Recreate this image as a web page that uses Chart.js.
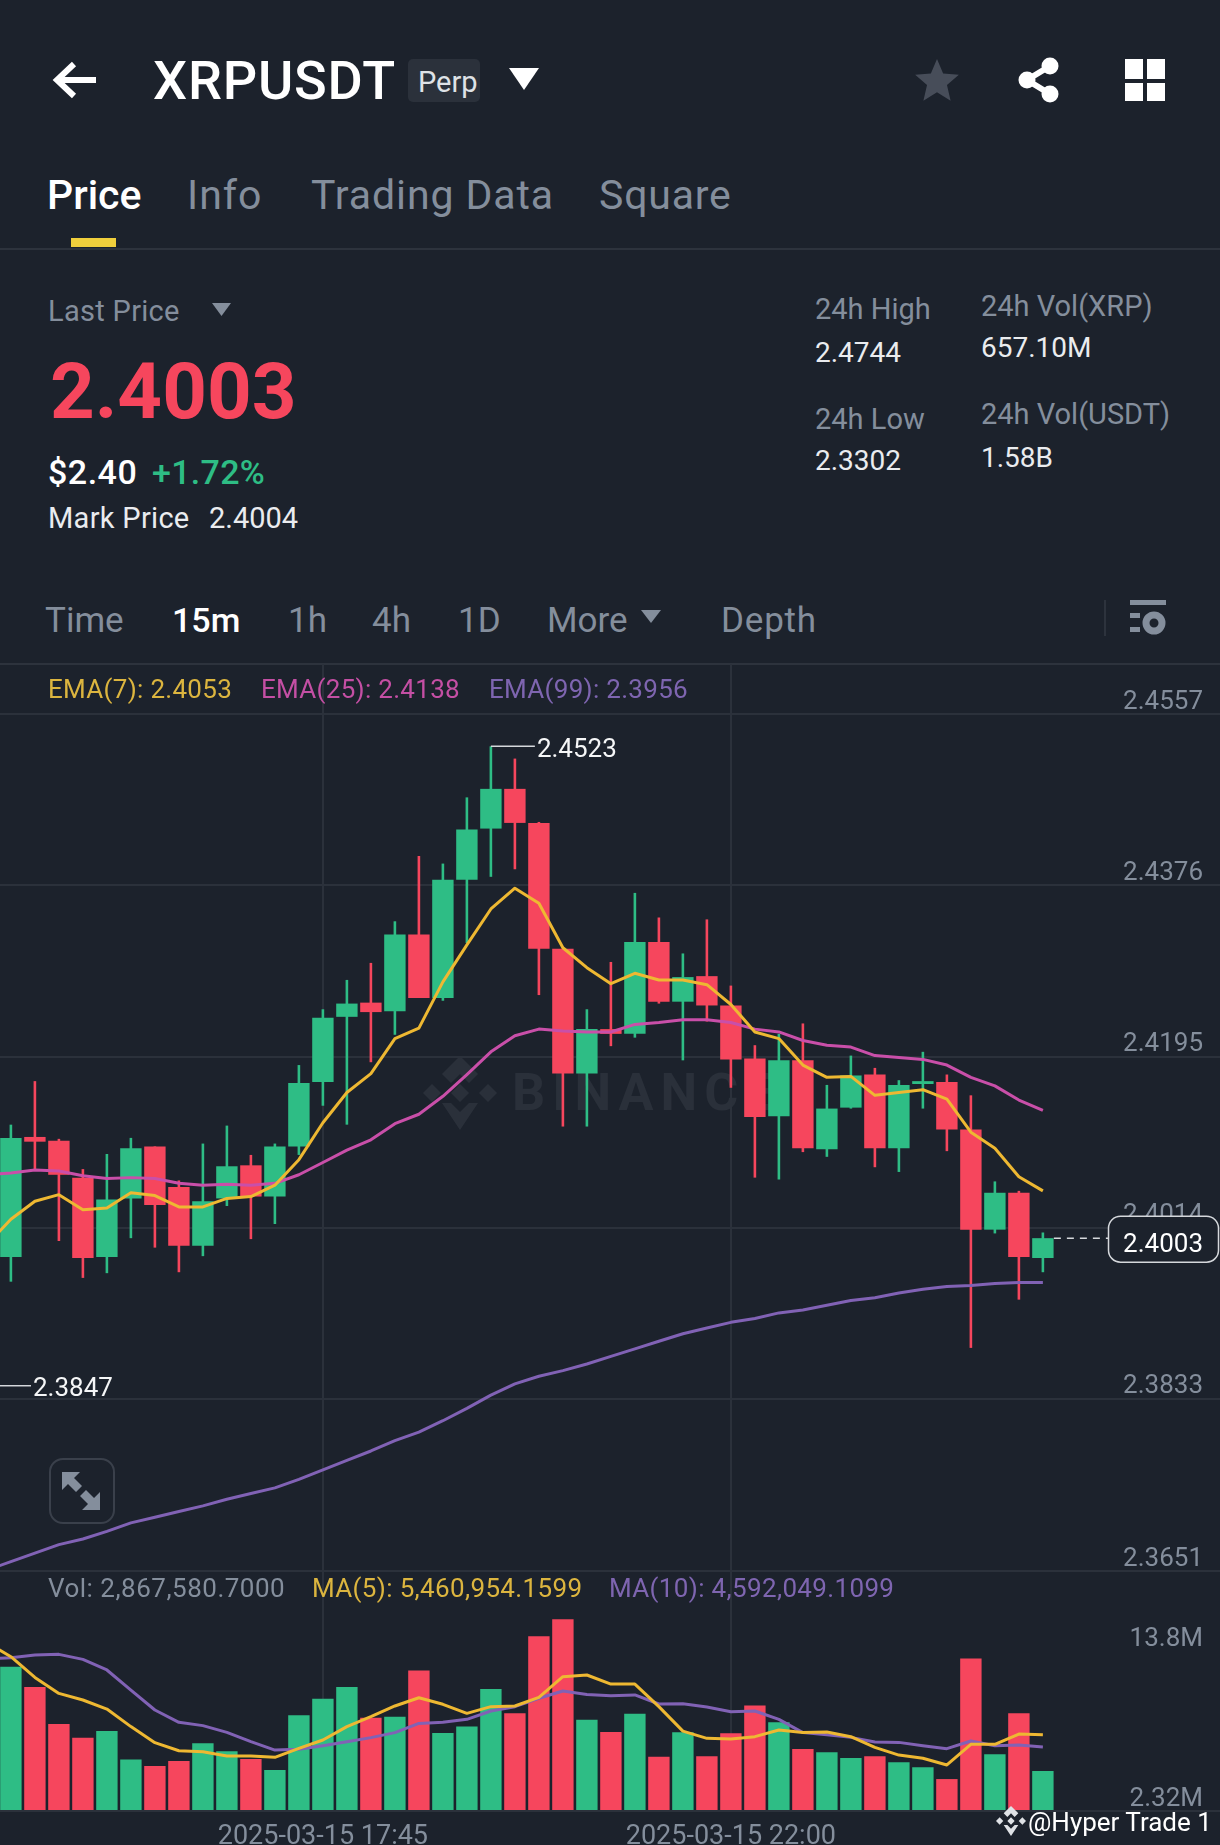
<!DOCTYPE html>
<html>
<head>
<meta charset="utf-8">
<title>XRPUSDT Perp</title>
<script src="https://cdn.jsdelivr.net/npm/chart.js@4/dist/chart.umd.min.js"></script>
<style>
html,body{margin:0;padding:0;background:#1c222c;}
body{position:relative;width:1220px;height:1845px;overflow:hidden;font-family:Roboto,sans-serif;color:#fff;}
.t{position:absolute;white-space:nowrap;transform:translateY(-50%);line-height:1;}
.gray{color:#848e9c;}
.line{position:absolute;background:#2d333d;}
svg{position:absolute;}
canvas{position:absolute;left:0;z-index:2;}
#priceCanvas{top:664px;}
#volumeCanvas{top:1575px;}
.wm{position:absolute;z-index:1;}
.over{z-index:3;}
</style>
</head>
<body>
<!-- header -->
<svg style="left:52px;top:60px" width="46" height="40" viewBox="0 0 46 40"><path d="M22 4 L5 20 L22 36 M5 20 H44" fill="none" stroke="#fff" stroke-width="6"/></svg>
<span class="t" style="left:153px;top:81px;font-size:54px;font-weight:500;letter-spacing:.8px">XRPUSDT</span>
<div style="position:absolute;left:408px;top:59px;width:72px;height:43px;background:#2b313b;border-radius:5px"></div>
<span class="t" style="left:418px;top:82px;font-size:29px;color:#dfe2e6">Perp</span>
<svg style="left:509px;top:68px" width="30" height="22"><path d="M0 0H30L15 22Z" fill="#fff"/></svg>
<svg style="left:914px;top:56px" width="46" height="48" viewBox="0 0 24 24"><path d="M12 1 L15.2 8.6 L23.4 9.2 L17.2 14.6 L19.1 22.8 L12 18.4 L4.9 22.800 L6.8 14.6 L.6 9.2 L8.8 8.6Z" fill="#474d59"/></svg>
<svg style="left:1016px;top:56px" width="46" height="48" viewBox="0 0 46 48"><path d="M34 10 L11 24 L34 38" fill="none" stroke="#fff" stroke-width="6"/><circle cx="34" cy="10" r="8.5" fill="#fff"/><circle cx="11" cy="24" r="8.5" fill="#fff"/><circle cx="34" cy="38" r="8.5" fill="#fff"/></svg>
<svg style="left:1125px;top:59px" width="40" height="42"><rect width="18" height="20" fill="#fff"/><rect x="22" width="18" height="20" fill="#fff"/><rect y="24" width="18" height="18" fill="#fff"/><rect x="22" y="24" width="18" height="18" fill="#fff"/></svg>

<!-- tabs -->
<span class="t" style="left:47px;top:195px;font-size:41px;font-weight:500">Price</span>
<span class="t gray" style="left:187px;top:195px;font-size:41px;letter-spacing:1px">Info</span>
<span class="t gray" style="left:311px;top:195px;font-size:41px;letter-spacing:.9px">Trading Data</span>
<span class="t gray" style="left:599px;top:195px;font-size:41px;letter-spacing:.8px">Square</span>
<div style="position:absolute;left:71px;top:238px;width:45px;height:9px;background:#f0cf3c"></div>
<div class="line" style="left:0;top:248px;width:1220px;height:2px"></div>

<!-- price block -->
<span class="t gray" style="left:48px;top:311px;font-size:29px;letter-spacing:.3px">Last Price</span>
<svg style="left:212px;top:303px" width="19" height="13"><path d="M0 0H19L9.500 13Z" fill="#848e9c"/></svg>
<span class="t" style="left:50px;top:392px;font-size:78px;font-weight:700;color:#f6465d">2.4003</span>
<span class="t" style="left:48px;top:472px;font-size:34px;font-weight:500;letter-spacing:.5px">$2.40</span>
<span class="t" style="left:152px;top:472px;font-size:34px;font-weight:500;color:#2ebd85;letter-spacing:.3px">+1.72%</span>
<span class="t" style="left:48px;top:518px;font-size:29px;color:#eaecef;letter-spacing:.3px">Mark Price</span>
<span class="t" style="left:209px;top:518px;font-size:29px;color:#eaecef">2.4004</span>

<span class="t gray" style="left:815px;top:309px;font-size:29px">24h High</span>
<span class="t" style="left:815px;top:353px;font-size:28px;color:#eaecef">2.4744</span>
<span class="t gray" style="left:815px;top:419px;font-size:29px">24h Low</span>
<span class="t" style="left:815px;top:461px;font-size:28px;color:#eaecef">2.3302</span>
<span class="t gray" style="left:981px;top:306px;font-size:29px">24h Vol(XRP)</span>
<span class="t" style="left:981px;top:348px;font-size:28px;color:#eaecef">657.10M</span>
<span class="t gray" style="left:981px;top:414px;font-size:29px">24h Vol(USDT)</span>
<span class="t" style="left:981px;top:458px;font-size:28px;color:#eaecef">1.58B</span>

<!-- interval row -->
<span class="t gray" style="left:45px;top:620px;font-size:35px">Time</span>
<span class="t" style="left:172px;top:620px;font-size:34px;font-weight:500">15m</span>
<span class="t gray" style="left:288px;top:620px;font-size:35px">1h</span>
<span class="t gray" style="left:372px;top:620px;font-size:35px">4h</span>
<span class="t gray" style="left:458px;top:620px;font-size:35px">1D</span>
<span class="t gray" style="left:547px;top:620px;font-size:35px">More</span>
<svg style="left:641px;top:610px" width="20" height="13"><path d="M0 0H20L10 13Z" fill="#848e9c"/></svg>
<span class="t gray" style="left:721px;top:620px;font-size:35px;letter-spacing:.8px">Depth</span>
<div class="line" style="left:1104px;top:600px;width:2px;height:36px"></div>
<svg style="left:1129px;top:600px" width="38" height="38"><rect x="1" y="0" width="36" height="5" fill="#848e9c"/><rect x="1" y="13" width="10" height="5" fill="#848e9c"/><rect x="1" y="27" width="10" height="5" fill="#848e9c"/><circle cx="25" cy="23" r="8" fill="none" stroke="#848e9c" stroke-width="7"/></svg>
<div class="line" style="left:0;top:663px;width:1220px;height:2px"></div>

<!-- legends -->
<span class="t over" style="left:48px;top:689px;font-size:26px;letter-spacing:.3px;color:#dcb53f">EMA(7): 2.4053</span>
<span class="t over" style="left:261px;top:689px;font-size:26px;letter-spacing:.3px;color:#c44fa4">EMA(25): 2.4138</span>
<span class="t over" style="left:489px;top:689px;font-size:26px;letter-spacing:.3px;color:#7e65b0">EMA(99): 2.3956</span>
<span class="t over gray" style="left:48px;top:1588px;font-size:26px;letter-spacing:.5px">Vol: 2,867,580.7000</span>
<span class="t over" style="left:312px;top:1588px;font-size:26px;letter-spacing:.35px;color:#dcb53f">MA(5): 5,460,954.1599</span>
<span class="t over" style="left:609px;top:1588px;font-size:26px;letter-spacing:.35px;color:#7e65b0">MA(10): 4,592,049.1099</span>

<!-- watermark behind the candles -->
<svg class="wm" style="left:423px;top:1056px" width="74" height="74" viewBox="0 0 74 74"><g fill="#2a303a"><path d="M37 0 L55 18 L46 27 L37 18 L28 27 L19 18Z"/><path d="M9 28 L18 37 L9 46 L0 37Z"/><path d="M65 28 L74 37 L65 46 L56 37Z"/><path d="M37 28 L46 37 L37 46 L28 37Z"/><path d="M19 47 L28 47 L37 56 L46 47 L55 47 L37 74Z"/></g></svg>
<span class="t wm" style="left:512px;top:1093px;font-size:52px;font-weight:700;color:#2a303a;letter-spacing:7px">BINANCE</span>

<canvas id="priceCanvas" width="1220" height="911"></canvas>
<canvas id="volumeCanvas" width="1220" height="270"></canvas>

<!-- expand button -->
<div class="over" style="position:absolute;left:49px;top:1458px;width:62px;height:62px;border:2px solid #3a404b;border-radius:14px"></div>
<svg class="over" style="left:60px;top:1470px;z-index:3" width="42" height="42"><path d="M2 2H20L14 8 L22 16 L16 22 L8 14 L2 20Z" fill="#848e9c"/><path d="M40 40H22L28 34 L20 26 L26 20 L34 28 L40 22Z" fill="#848e9c"/></svg>

<!-- footer tag -->
<svg style="left:996px;top:1806px;z-index:3" width="30" height="30" viewBox="0 0 74 74"><g fill="#dfe2e6"><path d="M37 0 L55 18 L46 27 L37 18 L28 27 L19 18Z"/><path d="M9 28 L18 37 L9 46 L0 37Z"/><path d="M65 28 L74 37 L65 46 L56 37Z"/><path d="M37 28 L46 37 L37 46 L28 37Z"/><path d="M19 47 L28 47 L37 56 L46 47 L55 47 L37 74Z"/></g></svg>
<span class="t over" style="left:1028px;top:1822px;font-size:26px;color:#fff">@Hyper Trade 1</span>

<script>
// candles
const open = [2.3983,2.4110,2.4106,2.4067,2.3983,2.4045,2.4100,2.4057,2.3995,2.4045,2.4080,2.4047,2.4100,2.4168,2.4237,2.4252,2.4243,2.4324,2.4257,2.4382,2.4436,2.4478,2.4442,2.4309,2.4177,2.4224,2.4219,2.4316,2.4253,2.4280,2.4249,2.4193,2.4132,2.4191,2.4097,2.4141,2.4176,2.4098,2.4166,2.4168,2.4118,2.4012,2.4051,2.3982];
const high = [2.4123,2.4169,2.4108,2.4076,2.4092,2.4109,2.4100,2.4064,2.4103,2.4122,2.4091,2.4103,2.4186,2.4245,2.4276,2.4294,2.4338,2.4407,2.4399,2.4469,2.4523,2.4510,2.4443,2.4309,2.4245,2.4295,2.4368,2.4342,2.4304,2.4340,2.4270,2.4207,2.4219,2.4230,2.4165,2.4196,2.4183,2.4170,2.4200,2.4176,2.4154,2.4063,2.4053,2.4009];
const low = [2.3957,2.4076,2.4000,2.3961,2.3966,2.4003,2.3993,2.3967,2.3984,2.4037,2.4002,2.4018,2.4091,2.4143,2.4123,2.4189,2.4218,2.4257,2.4254,2.4315,2.4385,2.4393,2.4260,2.4121,2.4121,2.4206,2.4215,2.4251,2.4191,2.4232,2.4162,2.4067,2.4065,2.4094,2.4089,2.4140,2.4078,2.4073,2.4140,2.4095,2.3887,2.4008,2.3938,2.3967];
const close = [2.4109,2.4105,2.4070,2.3982,2.4044,2.4098,2.4038,2.3995,2.4042,2.4079,2.4047,2.4100,2.4167,2.4236,2.4251,2.4242,2.4324,2.4257,2.4382,2.4435,2.4478,2.4442,2.4309,2.4177,2.4224,2.4219,2.4316,2.4253,2.4279,2.4249,2.4192,2.4131,2.4191,2.4098,2.4140,2.4175,2.4098,2.4165,2.4169,2.4118,2.4012,2.4051,2.3983,2.4003];

// averages start one candle before the first visible one (index -1)
const ema7 = [2.3996,2.4023,2.4042,2.4049,2.4033,2.4035,2.4051,2.4048,2.4036,2.4036,2.4045,2.4047,2.4059,2.4086,2.4125,2.4157,2.4177,2.4214,2.4225,2.4274,2.4313,2.4351,2.4373,2.4357,2.4310,2.4289,2.4272,2.4283,2.4276,2.4276,2.4271,2.4250,2.4221,2.4214,2.4186,2.4173,2.4174,2.4154,2.4157,2.4160,2.4150,2.4115,2.4098,2.4068,2.4053];
const ema25 = [2.4070,2.4072,2.4075,2.4074,2.4069,2.4066,2.4067,2.4066,2.4061,2.4059,2.4060,2.4059,2.4061,2.4070,2.4083,2.4096,2.4107,2.4124,2.4134,2.4153,2.4176,2.4200,2.4217,2.4224,2.4222,2.4221,2.4221,2.4229,2.4231,2.4234,2.4234,2.4231,2.4224,2.4221,2.4212,2.4207,2.4205,2.4196,2.4194,2.4192,2.4186,2.4173,2.4164,2.4149,2.4138];
const ema99 = [2.3652,2.3661,2.3670,2.3679,2.3685,2.3693,2.3702,2.3708,2.3714,2.3720,2.3727,2.3733,2.3739,2.3748,2.3758,2.3768,2.3778,2.3789,2.3798,2.3810,2.3823,2.3837,2.3849,2.3857,2.3863,2.3870,2.3878,2.3886,2.3894,2.3902,2.3908,2.3914,2.3918,2.3924,2.3927,2.3932,2.3937,2.3940,2.3945,2.3949,2.3952,2.3953,2.3955,2.3956,2.3956];

// volume in millions
const volume = [10.35,8.89,6.24,5.26,5.73,3.70,3.23,3.58,4.85,4.28,3.73,2.94,6.86,8.05,8.89,6.69,6.76,10.08,5.59,6.05,8.75,7.00,12.52,13.74,6.55,5.66,6.98,3.89,5.64,3.92,5.57,7.57,6.36,4.44,4.21,3.80,3.92,3.49,3.13,2.29,10.94,4.06,7.00,2.8676];
const ma5 = [12.09,11.06,9.58,8.43,7.96,7.31,6.05,4.90,4.32,4.25,3.94,3.94,3.85,4.49,5.09,6.05,6.76,7.53,8.12,7.65,7.00,7.48,7.53,8.15,9.63,9.75,9.10,9.10,7.48,5.73,5.21,5.16,5.33,5.81,5.62,5.66,5.33,4.56,4.01,3.78,3.30,4.78,4.78,5.52,5.461];
const ma10 = [10.90,10.99,11.18,11.23,10.87,10.11,8.67,7.24,6.36,6.12,5.64,4.97,4.37,4.42,4.68,4.97,5.26,5.62,6.28,6.36,6.57,7.17,7.48,8.08,8.60,8.36,8.27,8.32,7.67,7.69,7.46,7.12,7.17,6.57,5.62,5.47,5.28,4.95,4.92,4.68,4.47,5.02,4.68,4.73,4.592];

const priceTicks = [2.4557,2.4376,2.4195,2.4014,2.3833,2.3651];
const volumeTicks = [0,2.32,13.8];
const volumeTickLabels = ["","2.32M","13.8M"];
const timeTicks = [13,30];
const timeLabels = ["2025-03-15 17:45","2025-03-15 22:00"];
const lastPrice = 2.4003;
const highMark = 2.4523;
const lowMark = 2.3847;

const GREEN = "#2ebd85";
const RED = "#f6465d";
const GRID = "#2b313b";
const YELLOW = "#eeb832";
const PINK = "#c94fa9";
const PURPLE = "#8162b5";
const FONT = "Roboto";

const candleColors = close.map((c, i) => (c >= open[i] ? GREEN : RED));
const xMin = -0.454, xMax = 50.38;

function lineData(arr) {
	return arr.map((v, i) => ({ x: i - 1, y: v }));
}
function lineSet(arr, color, order) {
	return { type: "line", data: lineData(arr), borderColor: color, borderWidth: 3, pointRadius: 0, tension: 0, borderJoinStyle: "round", order: order };
}
function xScale(showLabels) {
	return {
		type: "linear", min: xMin, max: xMax, offset: false,
		afterBuildTicks: s => { s.ticks = timeTicks.map(v => ({ value: v })); },
		grid: { color: GRID, lineWidth: 2, drawTicks: false, offset: false },
		border: { display: false },
		ticks: {
			display: showLabels, autoSkip: false, maxRotation: 0, padding: 10, color: "#848e9c",
			font: { family: FONT, size: 27 },
			callback: v => timeLabels[timeTicks.indexOf(v)]
		},
		afterFit: s => { s.height = showLabels ? 34 : 0; s.paddingLeft = 0; s.paddingRight = 0; }
	};
}
// mirrored labels must not take room from the plot
function flatY(s) {
	s.width = 0; s.paddingTop = 0; s.paddingBottom = 0;
}

// high/low marks and the last price tag
const pricePlugin = {
	id: "priceMarks",
	afterDraw(chart) {
		const c = chart.ctx, x = chart.scales.x, y = chart.scales.y;
		c.save();
		c.font = "26px " + FONT;
		c.textBaseline = "middle";
		c.strokeStyle = "#d5d8dc";
		c.lineWidth = 1.5;

		let py = y.getPixelForValue(highMark);
		let px = x.getPixelForValue(high.indexOf(highMark));
		c.beginPath(); c.moveTo(px, py); c.lineTo(px + 44, py); c.stroke();
		c.fillStyle = "#f5f6f7"; c.textAlign = "left";
		c.fillText(highMark.toFixed(4), px + 46, py + 4);

		py = y.getPixelForValue(lowMark);
		c.beginPath(); c.moveTo(0, py); c.lineTo(31, py); c.stroke();
		c.fillText(lowMark.toFixed(4), 33, py + 4);

		py = y.getPixelForValue(lastPrice);
		px = x.getPixelForValue(close.length - 1) + 11;
		c.setLineDash([7, 6]);
		c.beginPath(); c.moveTo(px, py); c.lineTo(1108, py); c.stroke();
		c.setLineDash([]);
		c.beginPath(); c.roundRect(1108.5, py - 22, 110, 46, 12);
		c.fillStyle = "#1c222c"; c.fill(); c.stroke();
		c.fillStyle = "#fff"; c.textAlign = "right";
		c.fillText(lastPrice.toFixed(4), 1203, py + 7);
		c.restore();
	}
};

new Chart(document.getElementById("priceCanvas"), {
	data: {
		datasets: [
			lineSet(ema7, YELLOW, 1),
			lineSet(ema25, PINK, 2),
			lineSet(ema99, PURPLE, 3),
			{ type: "bar", data: open.map((o, i) => ({ x: i, y: [o, close[i]] })), backgroundColor: candleColors, barThickness: 21.4, grouped: false, inflateAmount: 0, order: 4 },
			{ type: "bar", data: low.map((l, i) => ({ x: i, y: [l, high[i]] })), backgroundColor: candleColors, barThickness: 2.6, grouped: false, inflateAmount: 0, order: 5 }
		]
	},
	options: {
		responsive: false, animation: false,
		layout: { padding: 0 },
		plugins: { legend: { display: false }, tooltip: { enabled: false } },
		scales: {
			x: xScale(false),
			y: {
				position: "right", min: 2.36469, max: 2.4610,
				afterBuildTicks: s => { s.ticks = priceTicks.map(v => ({ value: v })); },
				afterFit: flatY,
				grid: { color: GRID, lineWidth: 2, drawTicks: false },
				border: { display: false },
				ticks: {
					mirror: true, padding: -17, labelOffset: -12, color: "#848e9c",
					font: { family: FONT, size: 26 },
					callback: v => v.toFixed(4)
				}
			}
		}
	},
	plugins: [pricePlugin]
});

new Chart(document.getElementById("volumeCanvas"), {
	data: {
		datasets: [
			lineSet(ma5, YELLOW, 1),
			lineSet(ma10, PURPLE, 2),
			{ type: "bar", data: volume.map((v, i) => ({ x: i, y: v })), backgroundColor: candleColors, barThickness: 21.4, grouped: false, inflateAmount: 0, order: 3 }
		]
	},
	options: {
		responsive: false, animation: false,
		layout: { padding: 0 },
		plugins: { legend: { display: false }, tooltip: { enabled: false } },
		scales: {
			x: xScale(true),
			y: {
				position: "right", min: 0, max: 16.92,
				afterBuildTicks: s => { s.ticks = volumeTicks.map(v => ({ value: v })); },
				afterFit: flatY,
				grid: { color: ctx => (ctx.tick && ctx.tick.value === 0 ? GRID : "transparent"), lineWidth: 2, drawTicks: false },
				border: { display: false },
				ticks: {
					mirror: true, padding: -17, labelOffset: 21, color: "#848e9c",
					font: { family: FONT, size: 26 },
					callback: v => volumeTickLabels[volumeTicks.indexOf(v)]
				}
			}
		}
	}
});
</script>
</body>
</html>
